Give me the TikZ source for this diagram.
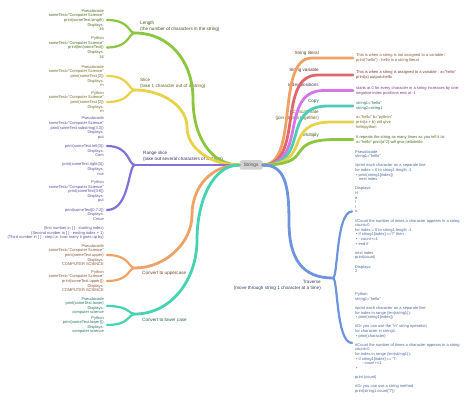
\documentclass[tikz,border=0pt]{standalone}
\usepackage{fontspec}
\setmainfont{Liberation Sans}
\definecolor{cgreen}{HTML}{8CC641}
\definecolor{cyellow}{HTML}{E8D24A}
\definecolor{cpurple}{HTML}{7F72DD}
\definecolor{corange}{HTML}{EFA266}
\definecolor{cteal}{HTML}{45D3B2}
\definecolor{cred}{HTML}{E1666A}
\definecolor{cmag}{HTML}{D476E6}
\definecolor{ccopy}{HTML}{4CCDB5}
\definecolor{cblue}{HTML}{6F94DF}
\definecolor{cgrey}{HTML}{D2D2D2}
\tikzset{
  br/.style={line width=2.8pt, line cap=round},
  fk/.style={line width=2.2pt, line cap=round},
  lleaf/.style={anchor=east, align=right, inner xsep=3pt, inner ysep=0pt, font=\fontsize{4}{4.6}\selectfont},
  rleaf/.style={anchor=west, align=left, inner xsep=3pt, inner ysep=0pt, font=\fontsize{4}{5}\selectfont},
  tvleaf/.style={anchor=west, align=left, inner xsep=3pt, inner ysep=0pt, font=\fontsize{4}{4.6}\selectfont},
  ltopic/.style={anchor=west, align=left, inner sep=0pt, font=\fontsize{4.6}{6}\selectfont},
  rtopic/.style={anchor=east, align=right, inner sep=0pt, font=\fontsize{4.6}{6}\selectfont},
  root/.style={fill=cgrey, rounded corners=1.5pt, minimum width=23pt, minimum height=9.5pt, inner sep=0pt, text=black!70, font=\fontsize{4.8}{5}\selectfont}
}
\begin{document}
\begin{tikzpicture}[x=1pt,y=-1pt]
\useasboundingbox (0,0) rectangle (474,406);
\fill[white] (0,0) rectangle (474,406);

% root
\node[root] (S) at (251,165) {Strings};

% ---- left topics
\node[ltopic, text=cgreen!45!black] (tLen) at (140,26) {Length\\(the number of characters in the string)};
\node[ltopic, text=cyellow!45!black] (tSl) at (140,83) {Slice\\(take 1 character out of a string)};
\node[ltopic, text=cpurple!45!black] (tRs) at (143,156) {Range slice\\(take out several characters of a string)};
\node[ltopic, text=corange!45!black] (tUp) at (142,273) {Convert to uppercase};
\node[ltopic, text=cteal!45!black] (tLo) at (142,320) {Convert to lower case};

% ---- left leaves
\node[lleaf, text=cgreen!55!black] (len1) at (107,20) {Pseudocode\\someText="Computer Science"\\print(someText.length)\\Displays:\\16};
\node[lleaf, text=cgreen!55!black] (len2) at (107,47.5) {Python\\someText="Computer Science"\\print(len(someText))\\Displays:\\16};
\node[lleaf, text=cyellow!50!black] (sl1) at (107,76) {Pseudocode\\someText="Computer Science"\\print(someText [2])\\Displays:\\m};
\node[lleaf, text=cyellow!50!black] (sl2) at (107,102) {Python\\someText="Computer Science"\\print(someText [2])\\Displays:\\m};
\node[lleaf, text=cpurple!70!black] (rs1) at (107,146) {Pseudocode\\someText="Computer Science"\\print(someText.substring(3,3))\\Displays:\\put\\[4.6pt]print(someText.left(3))\\Displays:\\Com\\[4.6pt]print(someText.right(3))\\Displays:\\nce};
\node[lleaf, text=cpurple!70!black] (rs2) at (107,210) {Python\\someText="Computer Science"\\print(someText[3:6])\\Displays:\\put\\[4.6pt]print(someText[0:7:2])\\Displays:\\Cmue\\[4.6pt](first number in [ ] - starting index)\\(Second number in [ ] - ending index + 1)\\(Third number in [ ] - step i.e. how many it goes up by)};
\node[lleaf, text=corange!55!black] (up1) at (107,255) {Pseudocode\\someText="Computer Science"\\print(someText.upper)\\Displays:\\COMPUTER SCIENCE};
\node[lleaf, text=corange!55!black] (up2) at (107,281) {Python\\someText="Computer Science"\\print(someText.upper())\\Displays:\\COMPUTER SCIENCE};
\node[lleaf, text=cteal!55!black] (lo1) at (107,306) {Pseudocode\\print(someText.lower)\\Displays:\\computer science};
\node[lleaf, text=cteal!55!black] (lo2) at (107,325) {Python\\print(someText.lower())\\Displays:\\computer science};

% ---- right topics
\node[rtopic, text=corange!45!black] (tLit) at (319,53) {String literal};
\node[rtopic, text=cred!45!black] (tVar) at (319,70) {String variable};
\node[rtopic, text=cmag!45!black] (tIdx) at (319,85) {Index positions};
\node[rtopic, text=ccopy!45!black] (tCopy) at (319,101) {Copy};
\node[rtopic, text=cyellow!45!black] (tCat) at (319,115) {Concatenate\\(join strings together)};
\node[rtopic, text=cgreen!45!black] (tMul) at (319,135) {Multiply};
\node[rtopic, text=cblue!45!black] (tTr) at (321,285) {Traverse\\(move through string 1 character at a time)};

% ---- right leaves
\node[rleaf, text=corange!55!black] (lit) at (353,58) {This is when a string is not assigned to a variable :\\print("hello") - hello is a string literal};
\node[rleaf, text=cred!55!black] (var) at (353,75) {This is when a string is assigned to a variable : a="hello"\\print(a) output=hello};
\node[rleaf, text=cmag!55!black] (idx) at (353,90.5) {starts at 0 for every character in a string increases by one;\\negative index positions end at -1};
\node[rleaf, text=ccopy!55!black] (copy) at (353,106) {string1="hello"\\string2=string1};
\node[rleaf, text=cyellow!50!black] (cat) at (353,122) {a="hello" b="python"\\print(a + b) will give\\hellopython};
\node[rleaf, text=cgreen!55!black] (mul) at (353,139.5) {It repeats the string as many times as you tell it to:\\a="hello" print(a*2) will give hellohello};

% ---- traverse leaves
\node[tvleaf, text=cblue!70!black] (tv1) at (352,211.5) {Pseudocode\\string1="hello"\\[4.6pt]//print each character on a separate line\\for index = 0 to string1.length -1\\\hspace*{1pt}\textbullet\ print(string1[index])\\\hspace*{4pt}next index\\[4.6pt]Displays:\\H\\e\\l\\l\\o\\[4.6pt]//Count the number of times a character appears in a string\\count=0\\for index = 0 to string1.length -1\\\hspace*{1pt}\textbullet\ if string1[index] =="l" then\\\hspace*{1pt}\textbullet\ ◦ count+=1\\\hspace*{1pt}\textbullet\ end if\\[4.6pt]next index\\print(count)\\[4.6pt]Displays:\\2};
\node[tvleaf, text=cblue!70!black] (tv2) at (352,343) {Python\\string1="hello"\\[4.6pt]\#print each character on a separate line\\for index in range (len(string1)):\\\hspace*{1pt}\textbullet\ print(string1[index])\\[4.6pt]\#Or you can use the "in" string operation\\for character in string1:\\\hspace*{1pt}\textbullet\ print(character)\\[4.6pt]\#Count the number of times a character appears in a string\\count=0\\for index in range (len(string1)):\\\hspace*{1pt}\textbullet\ if string1[index] == "l":\\\hspace*{7pt}◦ count+=1\\\hspace*{1pt}\textbullet\\[4.6pt]print (count)\\[4.6pt]\#Or you can use a string method\\print(string1.count("l"))};

% ---- junctions and way points
\coordinate (jLen) at (135,33);  \coordinate (mLen) at (193,99);
\coordinate (jSl) at (135,90);   \coordinate (mSl) at (187,127);
\coordinate (jRs) at (135,165);
\coordinate (jUp) at (135,268);  \coordinate (mUp) at (192,215);
\coordinate (jLo) at (135,314);  \coordinate (mLo) at (197,240);
\coordinate (jTr) at (333,278);  \coordinate (mTr) at (289,222);
\coordinate (eLit) at (312,58);
\coordinate (eVar) at (318,75);
\coordinate (eIdx) at (324,90.5);
\coordinate (eCopy) at (328,106);
\coordinate (eCat) at (332,122);
\coordinate (eMul) at (336,139.5);

% ---- left branches
\draw[br,cgreen] (S.west) .. controls +(-28,0) and +(0,38) .. (mLen) .. controls +(0,-38) and +(34,0) .. (jLen);
\draw[br,cyellow] (S.west) .. controls +(-28,0) and +(0,22) .. (mSl) .. controls +(0,-20) and +(28,0) .. (jSl);
\draw[br,cpurple] (S.west) -- (jRs);
\draw[br,corange] (S.west) .. controls +(-28,0) and +(0,-28) .. (mUp) .. controls +(0,28) and +(30,0) .. (jUp);
\draw[br,cteal] (S.west) .. controls +(-26,0) and +(0,-40) .. (mLo) .. controls +(0,40) and +(36,0) .. (jLo);

\draw[fk,cgreen] (jLen) .. controls +(-7,0) and +(23,0) .. (len1.east);
\draw[fk,cgreen] (jLen) .. controls +(-7,0) and +(23,0) .. (len2.east);
\draw[fk,cyellow] (jSl) .. controls +(-7,0) and +(23,0) .. (sl1.east);
\draw[fk,cyellow] (jSl) .. controls +(-7,0) and +(23,0) .. (sl2.east);
\draw[fk,cpurple] (jRs) .. controls +(-7,0) and +(23,0) .. (rs1.east);
\draw[fk,cpurple] (jRs) .. controls +(-7,0) and +(23,0) .. (rs2.east);
\draw[fk,corange] (jUp) .. controls +(-7,0) and +(23,0) .. (up1.east);
\draw[fk,corange] (jUp) .. controls +(-7,0) and +(23,0) .. (up2.east);
\draw[fk,cteal] (jLo) .. controls +(-7,0) and +(23,0) .. (lo1.east);
\draw[fk,cteal] (jLo) .. controls +(-7,0) and +(23,0) .. (lo2.east);

% ---- right branches
\draw[br,corange] (S.east) .. controls +(37,0) and +(-37,0) .. (eLit) -- (lit.west);
\draw[br,cred] (S.east) .. controls +(42,0) and +(-42,0) .. (eVar) -- (var.west);
\draw[br,cmag] (S.east) .. controls +(46,0) and +(-46,0) .. (eIdx) -- (idx.west);
\draw[br,ccopy] (S.east) .. controls +(49,0) and +(-49,0) .. (eCopy) -- (copy.west);
\draw[br,cyellow] (S.east) .. controls +(52,0) and +(-52,0) .. (eCat) -- (cat.west);
\draw[br,cgreen] (S.east) .. controls +(55,0) and +(-55,0) .. (eMul) -- (mul.west);

\draw[br,cblue] (S.east) .. controls +(22,0) and +(0,-38) .. (mTr) .. controls +(0,38) and +(-30,0) .. (jTr);
\draw[fk,cblue] (jTr) .. controls +(5,0) and +(-16,0) .. (tv1.west);
\draw[fk,cblue] (jTr) .. controls +(5,0) and +(-16,0) .. (tv2.west);
\end{tikzpicture}
\end{document}
